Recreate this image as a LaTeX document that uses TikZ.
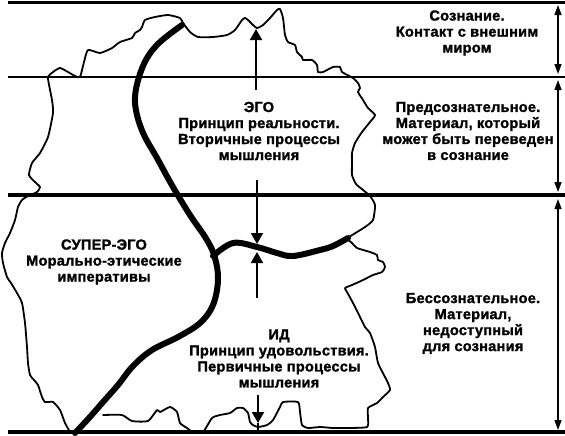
\documentclass[tikz,border=0pt]{standalone}
\usepackage{fontspec}
\setmainfont{Liberation Sans}[BoldFeatures={FakeBold=1.5,LetterSpace=1.5}]
\usetikzlibrary{arrows.meta}
\begin{document}
\begin{tikzpicture}[x=0.5pt,y=-0.5pt,
  lbl/.style={align=center,inner sep=0pt,font={\fontsize{7.3}{8}\selectfont\bfseries}},
  outline/.style={line width=0.9pt,line join=round,line cap=round},
  bound/.style={line width=3pt,line cap=round,line join=round},
  hthin/.style={line width=1pt},
  hthick/.style={line width=2pt},
  midarrow/.style={line width=1pt,-{Triangle[width=6pt,length=5.5pt]}},
  siderange/.style={line width=0.7pt,{Triangle[width=3.5pt,length=5pt]}-{Triangle[width=3.5pt,length=5pt]}}
]
\useasboundingbox (0,0) rectangle (565,435);
% level coordinates
\coordinate (l0a) at (8,2);   \coordinate (l0b) at (565,2);
\coordinate (l1a) at (8,77);  \coordinate (l1b) at (565,77);
\coordinate (l2a) at (8,195); \coordinate (l2b) at (565,195);
\coordinate (l3a) at (8,432); \coordinate (l3b) at (565,432);
\draw[line width=1.5pt] (l0a) -- (l0b);
\draw[hthin] (l1a) -- (l1b);
\draw[hthick] (l2a) -- (l2b);
\draw[hthick] (l3a) -- (l3b);

% outline of the psyche
\draw[outline] plot[smooth,tension=0.35] coordinates {
(70,432) (65,423) (60,410) (53,402) (45,402) (42,397) (38,385) (34,380) (30,375) (28,363) (27,347) (25,323) (22,303) (17,293) (11,283) (7,277) (3,263) (2,253) (5,243) (10,233) (15,220) (18,207) (22,200) (28,196) (37,192) (40,187) (35,182) (29,175) (32,163) (40,153) (48,137) (53,113) (52,100) (48,78)
(53,72) (60,68) (68,72) (75,76) (80,77) (84,62) (88,50) (100,53) (112,48) (120,42) (132,38) (135,33) (140,30) (142,27) (145,20) (155,17) (168,15) (180,18) (183,23) (190,32) (198,37) (213,37) (227,35) (235,30) (242,20) (245,18) (248,20) (253,25) (257,28) (263,25) (270,18) (277,10) (280,9) (283,18) (285,35) (288,42) (295,45) (297,52) (302,57) (303,60) (312,60) (317,65) (318,72) (323,72) (333,67) (340,67) (342,72) (353,78) (358,83) (360,88) (358,92) (363,100) (368,108) (375,115) (370,122) (362,132) (355,143) (352,153) (352,163) (352,175) (356,184) (363,190) (370,196) (375,205) (373,220) (365,227) (348,238)
(352,243) (357,248) (370,252) (377,255) (378,260) (383,262) (385,267) (382,272) (373,275) (363,280) (352,285) (345,288) (347,292) (353,303) (360,317) (365,327) (370,333) (375,347) (378,363) (385,377) (388,383) (390,390) (383,397) (377,403) (368,408) (368,418) (367,427) (347,428) (333,428) (320,427) (308,428) (302,425) (300,412) (298,402) (283,402) (280,407) (273,420) (267,425) (258,427) (253,425) (250,422) (248,413) (243,408) (237,408) (230,413) (220,415) (212,418) (203,432) (193,432) (187,428) (180,423) (177,412) (170,407) (160,412) (157,410) (148,421) (132,421) (122,415) (103,415)};

% ego / superego boundary
\draw[bound] plot[smooth,tension=0.6] coordinates {
(182,25) (160,42) (147,58) (139,77) (135,97) (137,115) (144,135) (157,158) (173,187) (190,215) (207,240) (215,258) (218,280) (213,305) (200,323) (178,337) (152,350) (133,366) (118,385) (103,402) (89,418) (75,433)};
% ego / id boundary
\draw[bound] plot[smooth,tension=0.6] coordinates {
(213,256) (233,243) (257,247) (277,253) (293,256) (320,250) (333,246) (348,238)};

% texts
\node[lbl] (soz) at (467,33) {Сознание.\\Контакт с внешним\\миром};
\node[lbl] (pred) at (468,131) {Предсознательное.\\Материал, который\\может быть переведен\\в сознание};
\node[lbl] (bes) at (473,323.5) {Бессознательное.\\Материал,\\недоступный\\для сознания};
\node[lbl] (ego) at (259,131) {ЭГО\\Принцип реальности.\\Вторичные процессы\\мышления};
\node[lbl] (sup) at (104,262) {СУПЕР-ЭГО\\Морально-этические\\императивы};
\node[lbl] (id) at (279,358.5) {ИД\\Принцип удовольствия.\\Первичные процессы\\мышления};

% central arrows
\coordinate (a1s) at (256,90);  \coordinate (a1e) at (256,29);
\coordinate (a2s) at (257,180); \coordinate (a2e) at (257,244);
\coordinate (a3s) at (257,298); \coordinate (a3e) at (257,252);
\coordinate (a4s) at (258,395); \coordinate (a4e) at (258,423); \coordinate (a4f) at (258,432);
\draw[midarrow] (a1s) -- (a1e);
\draw[midarrow] (a2s) -- (a2e);
\draw[midarrow] (a3s) -- (a3e);
\draw[midarrow] (a4s) -- (a4e);
\draw[line width=1pt] (a4e) -- (a4f);

% side ranges
\coordinate (r1a) at (558,5);   \coordinate (r1b) at (558,74);
\coordinate (r2a) at (558,80);  \coordinate (r2b) at (558,192);
\coordinate (r3a) at (558,199); \coordinate (r3b) at (558,430);
\draw[siderange] (r1a) -- (r1b);
\draw[siderange] (r2a) -- (r2b);
\draw[siderange] (r3a) -- (r3b);
\end{tikzpicture}
\end{document}
